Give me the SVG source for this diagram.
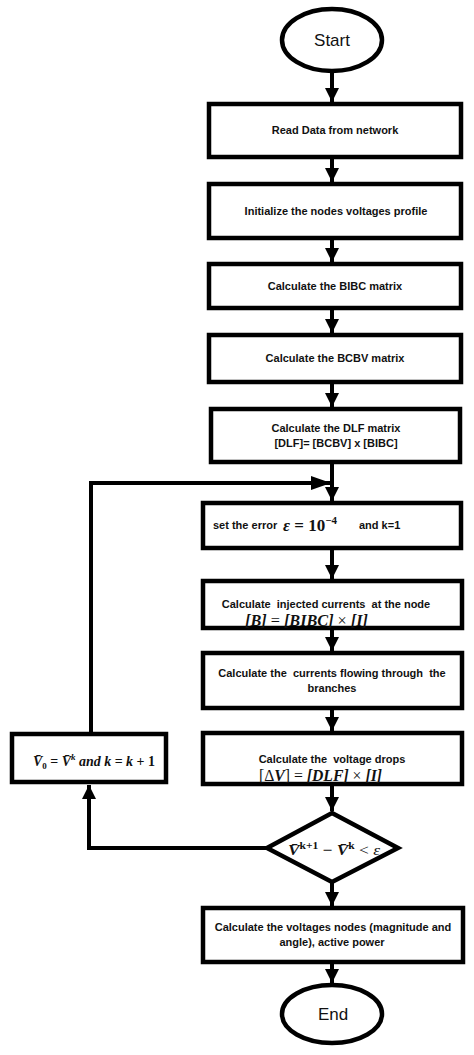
<svg xmlns="http://www.w3.org/2000/svg" width="474" height="1055" viewBox="0 0 474 1055">
<style>
.box{fill:#fff;stroke:#000;stroke-width:4.5}
.t{font-family:"Liberation Sans",Arial,sans-serif;font-weight:bold;font-size:11px;fill:#111;text-anchor:middle;white-space:pre}
.term{font-family:"Liberation Sans",Arial,sans-serif;font-size:17px;fill:#111;text-anchor:middle}
.m{font-family:"Liberation Serif","Times New Roman",serif;font-weight:bold;font-style:italic;fill:#111;white-space:pre}
.c{fill:none;stroke:#000;stroke-width:4}
</style>
<defs>
<marker id="ah" viewBox="0 0 14 14" refX="14" refY="7" markerWidth="14" markerHeight="14" markerUnits="userSpaceOnUse" orient="auto">
<path d="M0,0 L14,7 L0,14 z" fill="#000"/>
</marker>
<marker id="ahL" viewBox="0 0 20 14" refX="20" refY="7" markerWidth="20" markerHeight="14" markerUnits="userSpaceOnUse" orient="auto">
<path d="M0,0 L20,7 L0,14 z" fill="#000"/>
</marker>
</defs>
<rect width="474" height="1055" fill="#fff"/>
<g id="connectors">
<line class="c" x1="332" y1="71" x2="332" y2="102" marker-end="url(#ah)"/>
<line class="c" x1="332" y1="157" x2="332" y2="182" marker-end="url(#ah)"/>
<line class="c" x1="332" y1="238" x2="332" y2="262" marker-end="url(#ah)"/>
<line class="c" x1="332" y1="308" x2="332" y2="333" marker-end="url(#ah)"/>
<line class="c" x1="332" y1="382" x2="332" y2="407" marker-end="url(#ah)"/>
<line class="c" x1="332" y1="462" x2="332" y2="501" marker-end="url(#ah)"/>
<polyline class="c" points="91,734 91,483 331,483" marker-end="url(#ahL)"/>
<line class="c" x1="332" y1="548" x2="332" y2="579" marker-end="url(#ah)"/>
<line class="c" x1="332" y1="628" x2="332" y2="651" marker-end="url(#ah)"/>
<line class="c" x1="332" y1="708" x2="332" y2="731" marker-end="url(#ah)"/>
<line class="c" x1="332" y1="784" x2="332" y2="811" marker-end="url(#ah)"/>
<polyline class="c" points="267,848 89,848 89,785" marker-end="url(#ah)"/>
<line class="c" x1="332" y1="882" x2="332" y2="906" marker-end="url(#ah)"/>
<line class="c" x1="332" y1="962" x2="332" y2="983" marker-end="url(#ah)"/>
</g>
<g id="start">
<ellipse class="box" cx="332" cy="40" rx="50" ry="31"/>
<text class="term" x="332" y="46">Start</text>
</g>
<g id="read">
<rect class="box" x="209" y="104" width="252" height="53"/>
<text class="t" x="335" y="134">Read Data from network</text>
</g>
<g id="init">
<rect class="box" x="209" y="184" width="252" height="54"/>
<text class="t" x="336" y="215">Initialize the nodes voltages profile</text>
</g>
<g id="bibc">
<rect class="box" x="209" y="264" width="252" height="44"/>
<text class="t" x="335" y="290">Calculate the BIBC matrix</text>
</g>
<g id="bcbv">
<rect class="box" x="209" y="335" width="252" height="47"/>
<text class="t" x="335" y="362">Calculate the BCBV matrix</text>
</g>
<g id="dlf">
<rect class="box" x="211" y="409" width="249" height="53"/>
<text class="t" x="336" y="432">Calculate the DLF matrix</text>
<text class="t" x="336" y="447">[DLF]= [BCBV] x [BIBC]</text>
</g>
<g id="error">
<rect class="box" x="203" y="503" width="258" height="45"/>
<text class="t" x="213" y="529" style="text-anchor:start">set the error</text>
<text class="m" x="283" y="531" font-size="17"><tspan>ε</tspan><tspan font-style="normal"> = 10</tspan><tspan font-style="normal" font-size="11" dy="-7">−4</tspan></text>
<text class="t" x="359" y="529" style="text-anchor:start">and k=1</text>
</g>
<g id="inject">
<rect class="box" x="203" y="581" width="259" height="47"/>
<text class="t" x="326" y="608">Calculate  injected currents  at the node</text>
<text class="m" x="245" y="626" font-size="16" textLength="123" lengthAdjust="spacingAndGlyphs">[B] <tspan font-style="normal" font-weight="normal">=</tspan> [BIBC] <tspan font-style="normal" font-weight="normal">×</tspan> [I]</text>
</g>
<g id="branch">
<rect class="box" x="203" y="653" width="259" height="55"/>
<text class="t" x="332" y="677">Calculate the  currents flowing through  the</text>
<text class="t" x="332" y="692">branches</text>
</g>
<g id="drops">
<rect class="box" x="203" y="733" width="259" height="51"/>
<text class="t" x="332" y="763">Calculate the  voltage drops</text>
<text class="m" x="259" y="781" font-size="16" textLength="123" lengthAdjust="spacingAndGlyphs"><tspan font-style="normal" font-weight="normal">[Δ</tspan>V<tspan font-style="normal" font-weight="normal">]</tspan> <tspan font-style="normal" font-weight="normal">=</tspan> [DLF] <tspan font-style="normal" font-weight="normal">×</tspan> [I]</text>
</g>
<g id="check">
<polygon class="box" points="332,813 398,848 332,882 267,848"/>
<text class="m" x="288" y="855" font-size="15" textLength="92" lengthAdjust="spacingAndGlyphs">V̄<tspan font-style="normal" font-size="10" dy="-6">k+1</tspan><tspan dy="6" font-style="normal"> − </tspan>V̄<tspan font-style="normal" font-size="10" dy="-6">k</tspan><tspan dy="6" font-weight="normal" font-style="normal"> &lt; </tspan><tspan font-weight="normal">ε</tspan></text>
</g>
<g id="update">
<rect class="box" x="12" y="734" width="154" height="48"/>
<text class="m" x="33" y="766" font-size="14" textLength="122" lengthAdjust="spacingAndGlyphs">V̄<tspan font-size="9" dy="3" font-style="normal">0</tspan><tspan dy="-3" font-style="normal"> = </tspan>V̄<tspan font-size="9" dy="-6">k</tspan><tspan dy="6"> and k </tspan><tspan font-style="normal">=</tspan> k <tspan font-style="normal">+ 1</tspan></text>
</g>
<g id="result">
<rect class="box" x="203" y="908" width="260" height="54"/>
<text class="t" x="333" y="931">Calculate the voltages nodes (magnitude and</text>
<text class="t" x="332" y="946">angle), active power</text>
</g>
<g id="end">
<ellipse class="box" cx="332" cy="1014" rx="50" ry="29"/>
<text class="term" x="333" y="1020">End</text>
</g>
</svg>
